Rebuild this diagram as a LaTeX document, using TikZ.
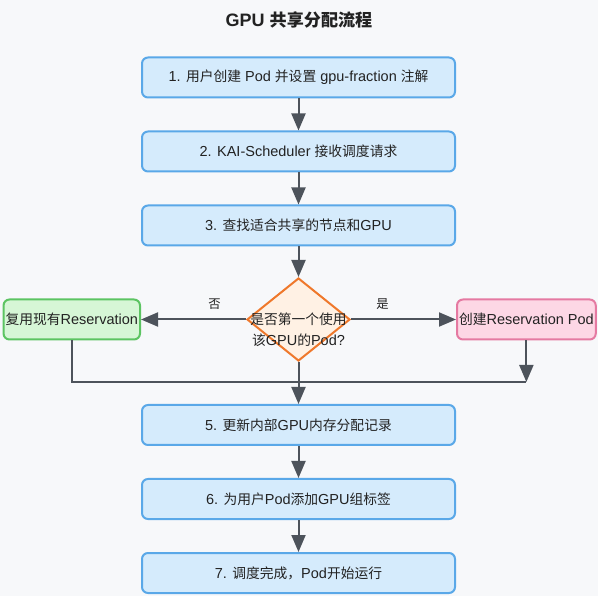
\documentclass[tikz,border=0pt]{standalone}
\usepackage{fontspec}
\setmainfont{Liberation Sans}
\newfontfamily\zhfont{Noto Sans CJK SC}[Scale=0.95]
\newcommand{\zh}[1]{{\zhfont #1}}
\usetikzlibrary{positioning, arrows.meta, shapes.geometric}
\definecolor{bgcol}{HTML}{F7F8FA}
\definecolor{linecol}{HTML}{4D535B}
\definecolor{txtcol}{HTML}{222222}
\definecolor{bluefill}{HTML}{D5EBFC}
\definecolor{blueline}{HTML}{5AA8E8}
\definecolor{greenfill}{HTML}{D6F6D6}
\definecolor{greenline}{HTML}{5CC462}
\definecolor{pinkfill}{HTML}{FDD7E5}
\definecolor{pinkline}{HTML}{E57AA2}
\definecolor{orangefill}{HTML}{FFF1E4}
\definecolor{orangeline}{HTML}{EF782B}

\begin{document}
\begin{tikzpicture}[
    x=1pt, y=1pt,
    ->, >={Triangle[length=17pt, width=14pt]}, line width=2pt, draw=linecol,
    node distance=32pt,
    every node/.style={text=txtcol, font=\fontsize{14.5}{21}\selectfont},
    stepbox/.style={draw=blueline, fill=bluefill, rounded corners=6pt, minimum width=313pt, minimum height=40pt},
    decision/.style={diamond, draw=orangeline, fill=orangefill, inner sep=0pt, minimum width=103pt, minimum height=83pt},
    reusebox/.style={draw=greenline, fill=greenfill, rounded corners=6pt, minimum width=135pt, minimum height=40pt, inner sep=2pt},
    createbox/.style={draw=pinkline, fill=pinkfill, rounded corners=6pt, minimum width=134pt, minimum height=40pt, inner sep=2pt},
    branch/.style={font=\fontsize{13}{15}\selectfont, above=6pt, pos=0.3}
]
    \fill[bgcol] (0,0) rectangle (598,-596);
    \useasboundingbox (0,0) rectangle (598,-596);

    \node[font=\fontsize{18}{20}\selectfont\bfseries] (title) at (299,-20) {GPU \zh{共享分配流程}};
    \node[stepbox] (s1) at (298.5,-77.5) {1. \zh{用户创建} Pod \zh{并设置} gpu-fraction \zh{注解}};
    \node[stepbox, below=of s1] (s2) {2. KAI-Scheduler \zh{接收调度请求}};
    \node[stepbox, below=of s2] (s3) {3. \zh{查找适合共享的节点和}GPU};
    \node[decision, below=30.5pt of s3] (first) {};
    \node[align=center, yshift=-10pt] (firsttext) at (first.center) {\zh{是否第一个使用}\\\zh{该}GPU\zh{的}Pod?};
    \node[reusebox, left=105pt of first] (reuse) {\zh{复用现有}Reservation};
    \node[createbox, right=105pt of first] (create) {\zh{创建}Reservation Pod};
    \coordinate[below=20pt of first.south] (join);
    \node[stepbox, below=42pt of first] (s5) {5. \zh{更新内部}GPU\zh{内存分配记录}};
    \node[stepbox, below=of s5] (s6) {6. \zh{为用户}Pod\zh{添加}GPU\zh{组标签}};
    \node[stepbox, below=of s6] (s7) {7. \zh{调度完成，}Pod\zh{开始运行}};

    \path   (s1) edge (s2)
            (s2) edge (s3)
            (s3) edge (first)
            (first.west) edge node[branch] {\zh{否}} (reuse)
            (first.east) edge node[branch] {\zh{是}} (create)
            (create.south) edge (create.south |- join)
            (first.south) edge (s5)
            (s5) edge (s6)
            (s6) edge (s7);
    \draw[-] (reuse.south) |- (create.south |- join);

\end{tikzpicture}
\end{document}
